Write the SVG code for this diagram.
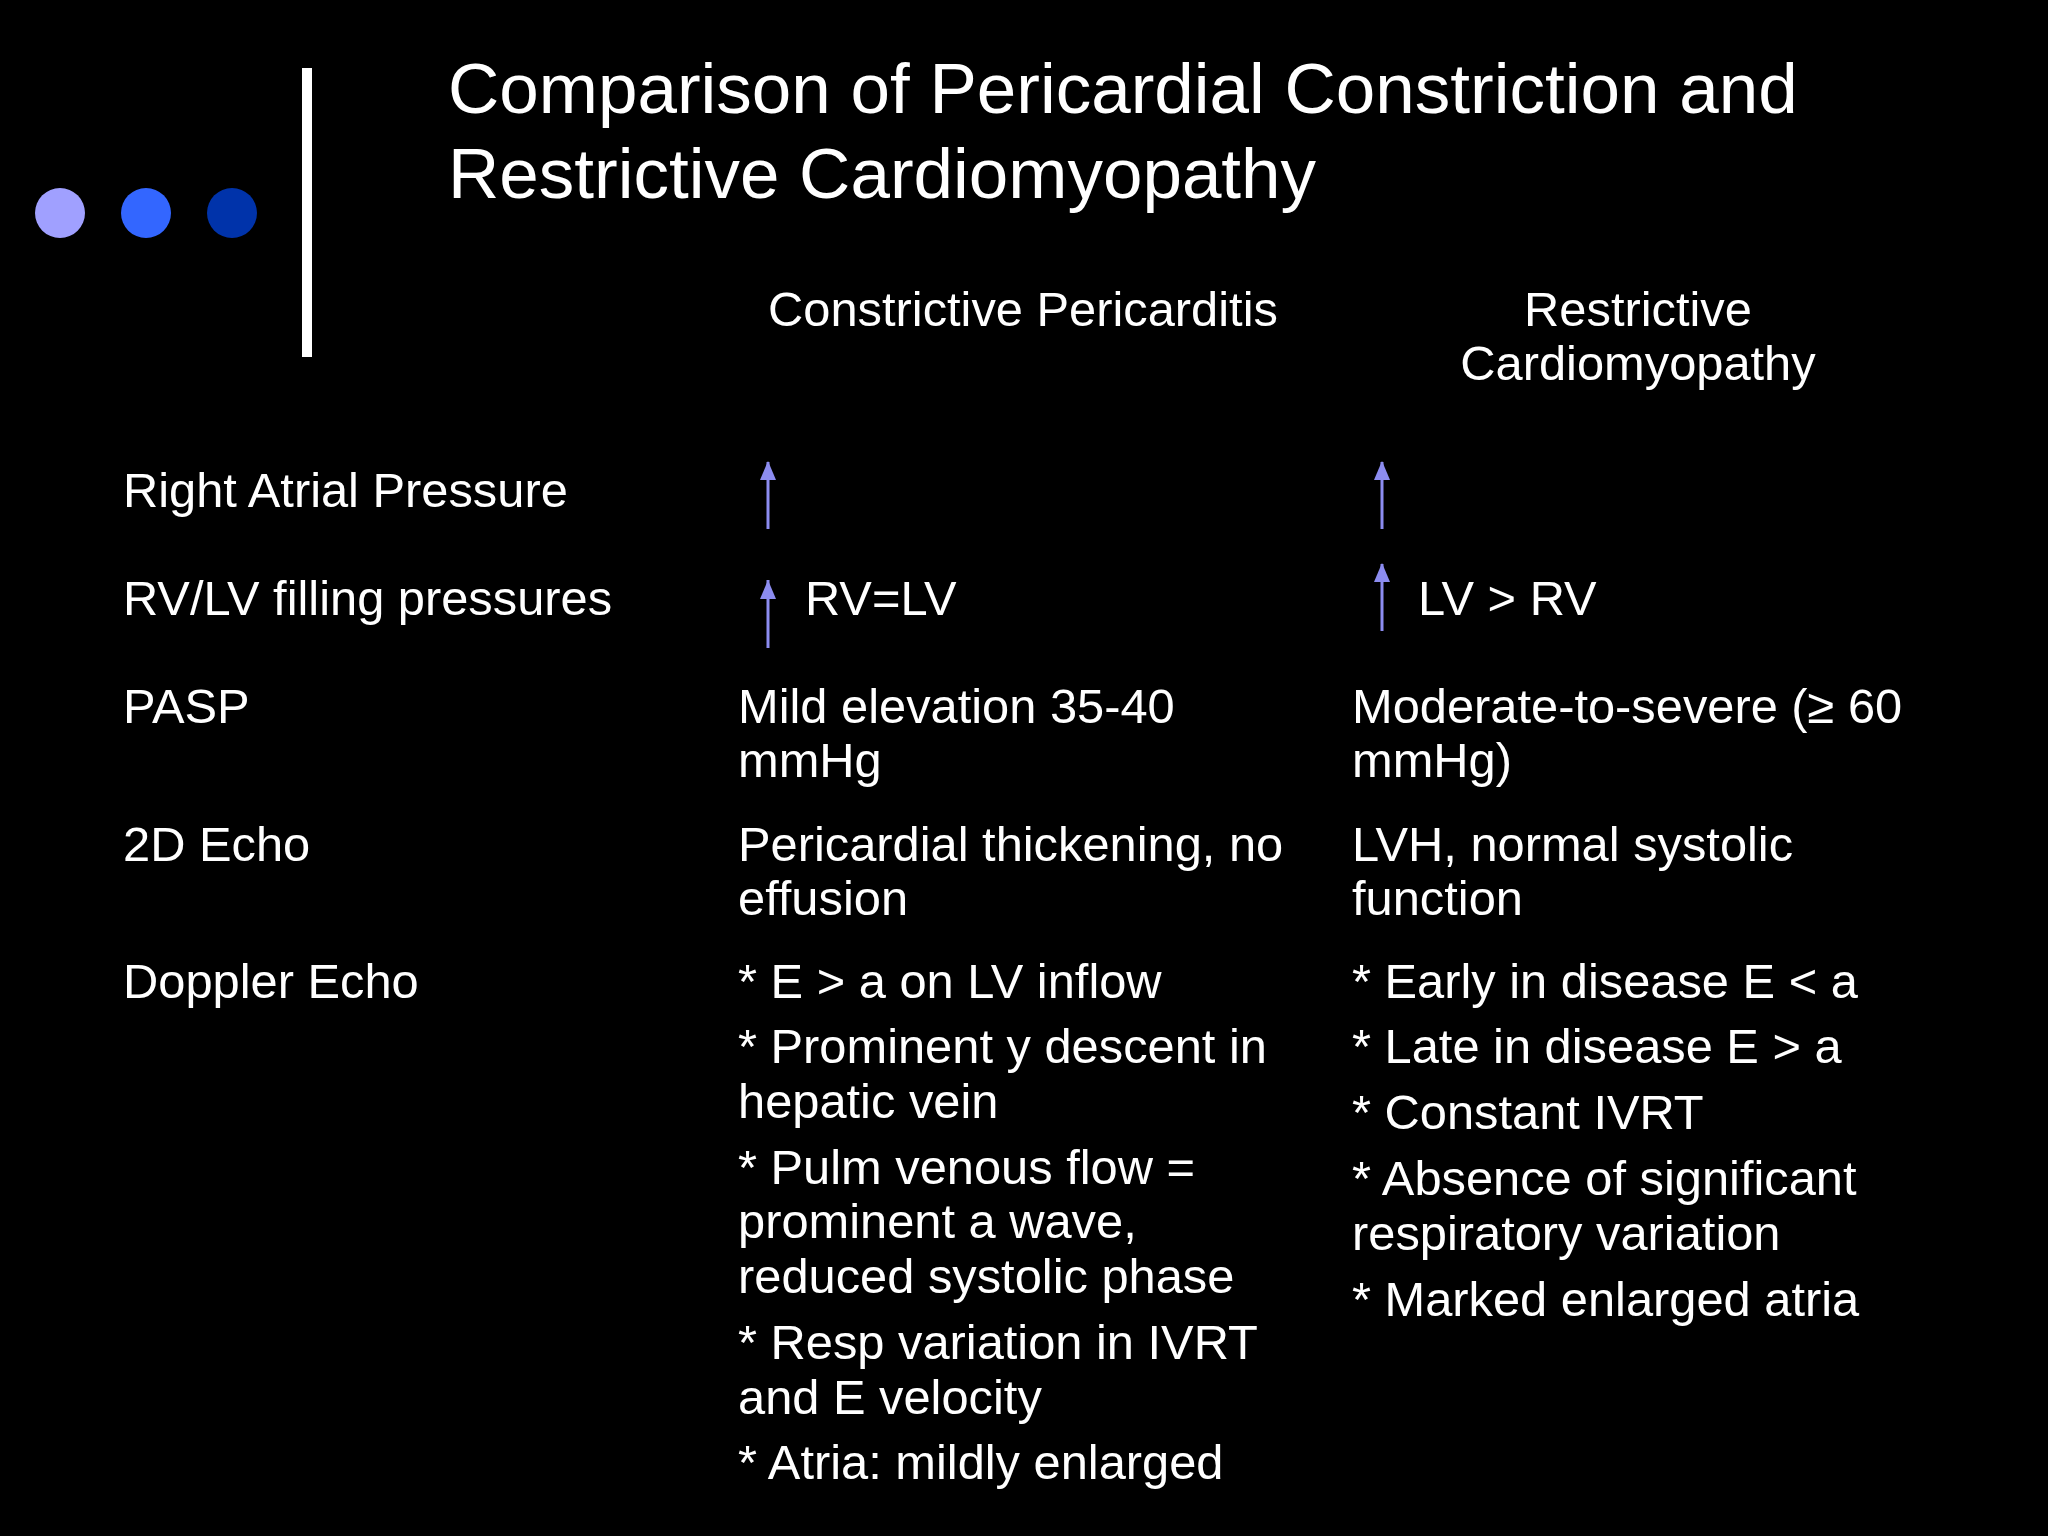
<svg xmlns="http://www.w3.org/2000/svg" width="2048" height="1536" viewBox="0 0 2048 1536">
<style>
text{font-family:"Liberation Sans",Arial,sans-serif;fill:#fff}
.t{font-size:71px}
.b{font-size:48.8px}
.a{stroke:#8c8cf0;stroke-width:3}
</style>
<rect width="2048" height="1536" fill="#000"/>
<g id="decor">
<circle cx="60" cy="213" r="25" fill="#a0a0ff"/>
<circle cx="146" cy="213" r="25" fill="#3366ff"/>
<circle cx="232" cy="213" r="25" fill="#0033aa"/>
<rect x="302" y="68" width="10" height="289" fill="#fff"/>
</g>
<g id="title">
<text class="t" x="448" y="113">Comparison of Pericardial Constriction and</text>
<text class="t" x="448" y="198">Restrictive Cardiomyopathy</text>
</g>
<g id="headers" text-anchor="middle">
<text class="b" x="1023" y="326">Constrictive Pericarditis</text>
<text class="b" x="1638" y="326">Restrictive</text>
<text class="b" x="1638" y="380">Cardiomyopathy</text>
</g>
<g id="labels">
<text class="b" x="123" y="507">Right Atrial Pressure</text>
<text class="b" x="123" y="615">RV/LV filling pressures</text>
<text class="b" x="123" y="723">PASP</text>
<text class="b" x="123" y="861">2D Echo</text>
<text class="b" x="123" y="998">Doppler Echo</text>
</g>
<g id="connectors">
<line class="a" x1="768" y1="529" x2="768" y2="462"/>
<path d="M760,480 L768,461 L776,480 Z" fill="#8c8cf0"/>
<line class="a" x1="768" y1="648" x2="768" y2="580"/>
<path d="M760,599 L768,580 L776,599 Z" fill="#8c8cf0"/>
<line class="a" x1="1382" y1="529" x2="1382" y2="462"/>
<path d="M1374,480 L1382,461 L1390,480 Z" fill="#8c8cf0"/>
<line class="a" x1="1382" y1="631" x2="1382" y2="564"/>
<path d="M1374,582 L1382,563 L1390,582 Z" fill="#8c8cf0"/>
</g>
<g id="col1">
<text class="b" x="805" y="615">RV=LV</text>
<text class="b" x="738" y="723">Mild elevation 35-40</text>
<text class="b" x="738" y="777">mmHg</text>
<text class="b" x="738" y="861">Pericardial thickening, no</text>
<text class="b" x="738" y="915">effusion</text>
<text class="b" x="738" y="998">* E &gt; a on LV inflow</text>
<text class="b" x="738" y="1063">* Prominent y descent in</text>
<text class="b" x="738" y="1118">hepatic vein</text>
<text class="b" x="738" y="1184">* Pulm venous flow =</text>
<text class="b" x="738" y="1238">prominent a wave,</text>
<text class="b" x="738" y="1293">reduced systolic phase</text>
<text class="b" x="738" y="1359">* Resp variation in IVRT</text>
<text class="b" x="738" y="1414">and E velocity</text>
<text class="b" x="738" y="1479">* Atria: mildly enlarged</text>
</g>
<g id="col2">
<text class="b" x="1418" y="615">LV &gt; RV</text>
<text class="b" x="1352" y="723">Moderate-to-severe (≥ 60</text>
<text class="b" x="1352" y="777">mmHg)</text>
<text class="b" x="1352" y="861">LVH, normal systolic</text>
<text class="b" x="1352" y="915">function</text>
<text class="b" x="1352" y="998">* Early in disease E &lt; a</text>
<text class="b" x="1352" y="1063">* Late in disease E &gt; a</text>
<text class="b" x="1352" y="1129">* Constant IVRT</text>
<text class="b" x="1352" y="1195">* Absence of significant</text>
<text class="b" x="1352" y="1250">respiratory variation</text>
<text class="b" x="1352" y="1316">* Marked enlarged atria</text>
</g>
</svg>
